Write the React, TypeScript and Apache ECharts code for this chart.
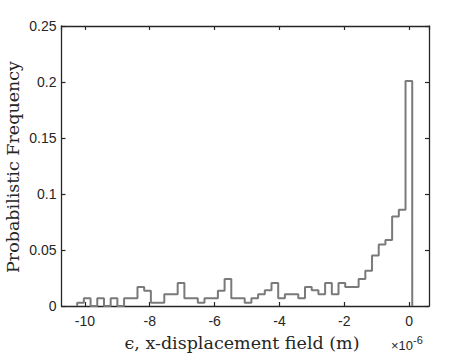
import React, { useEffect, useRef } from "react";
import * as echarts from "echarts";

// Histogram bins (x in units of 1e-6 m)
const binStart = -10.237;
const binWidth = 0.2066;
const freq = [
  0.003, 0.007, 0, 0.007, 0, 0.007, 0, 0.007, 0.007, 0.017,
  0.0137, 0.003, 0.003, 0.0104, 0.0104, 0.0205, 0.007, 0.007, 0.003, 0.007,
  0.007, 0.0137, 0.024, 0.007, 0.007, 0.003, 0.007, 0.0104, 0.014, 0.0205,
  0.007, 0.0104, 0.0104, 0.007, 0.017, 0.014, 0.0104, 0.0205, 0.0104, 0.0205,
  0.017, 0.017, 0.024, 0.0315, 0.045, 0.055, 0.059, 0.08, 0.086, 0.201,
];
const xTicks = [-10, -8, -6, -4, -2, 0];
const yTicks = [0, 0.05, 0.1, 0.15, 0.2, 0.25];
const xLabel = "\u03f5, x-displacement field (m)";
const yLabel = "Probabilistic Frequency";

const X_MIN = -10.72;
const X_MAX = 0.61;

export default function App() {
  const ref = useRef<HTMLDivElement>(null);
  useEffect(() => {
    if (!ref.current) return;
    const chart = echarts.init(ref.current, undefined, { renderer: "svg" });
    const pts: number[][] = [];
    pts.push([binStart, 0]);
    freq.forEach((v, i) => {
      pts.push([binStart + i * binWidth, v]);
      pts.push([binStart + (i + 1) * binWidth, v]);
    });
    pts.push([binStart + freq.length * binWidth, 0]);

    const axisColor = "#262626";
    const labelFont = "Liberation Sans";
    const serif = "'DejaVu Serif', serif";
    const xFmt = (v: number) => {
      const r = Math.round(v);
      return Math.abs(v - r) < 1e-6 && xTicks.includes(r) ? String(r) : "";
    };

    chart.setOption({
      animation: false,
      backgroundColor: "#ffffff",
      grid: { left: 61.5, top: 26, width: 367.5, height: 280 },
      xAxis: [
        {
          type: "value",
          min: X_MIN,
          max: X_MAX,
          splitNumber: 5,
          position: "bottom",
          axisLine: { show: true, onZero: false, lineStyle: { color: axisColor, width: 1.3 } },
          axisTick: { show: true, inside: true, length: 4, lineStyle: { color: axisColor, width: 1.2 } },
          axisLabel: {
            formatter: xFmt,
            showMinLabel: false,
            showMaxLabel: false,
            color: axisColor,
            fontFamily: labelFont,
            fontSize: 14,
            margin: 8,
          },
          splitLine: { show: false },
        },
        {
          type: "value",
          min: X_MIN,
          max: X_MAX,
          splitNumber: 5,
          position: "top",
          axisLine: { show: true, onZero: false, lineStyle: { color: axisColor, width: 1.3 } },
          axisTick: { show: true, inside: true, length: 4, lineStyle: { color: axisColor, width: 1.2 } },
          axisLabel: { show: false },
          splitLine: { show: false },
        },
      ],
      yAxis: [
        {
          type: "value",
          min: 0,
          max: 0.25,
          interval: 0.05,
          position: "left",
          axisLine: { show: true, onZero: false, lineStyle: { color: axisColor, width: 1.3 } },
          axisTick: { show: true, inside: true, length: 4, lineStyle: { color: axisColor, width: 1.2 } },
          axisLabel: {
            color: axisColor,
            fontFamily: labelFont,
            fontSize: 14,
            margin: 5,
            formatter: (v: number) => {
              const t = yTicks.find((k) => Math.abs(k - v) < 1e-9);
              return t === undefined ? "" : String(t);
            },
          },
          splitLine: { show: false },
        },
        {
          type: "value",
          min: 0,
          max: 0.25,
          interval: 0.05,
          position: "right",
          axisLine: { show: true, onZero: false, lineStyle: { color: axisColor, width: 1.3 } },
          axisTick: { show: true, inside: true, length: 4, lineStyle: { color: axisColor, width: 1.2 } },
          axisLabel: { show: false },
          splitLine: { show: false },
        },
      ],
      series: [
        {
          type: "line",
          xAxisIndex: 0,
          yAxisIndex: 0,
          data: pts,
          showSymbol: false,
          symbol: "none",
          lineStyle: { color: "#7a7a7a", width: 2 },
          z: 1,
        },
      ],
      graphic: [
        {
          type: "text",
          x: 13,
          y: 167,
          rotation: Math.PI / 2,
          style: {
            text: yLabel,
            fill: axisColor,
            font: "17.5px " + serif,
            align: "center",
            verticalAlign: "middle",
          },
        },
        {
          type: "text",
          x: 242,
          y: 343,
          style: {
            text: xLabel,
            fill: axisColor,
            font: "17.5px " + serif,
            align: "center",
            verticalAlign: "middle",
          },
        },
        {
          type: "text",
          x: 391,
          y: 345,
          style: {
            text: "{a|\u00d710}{b|-6}",
            fill: axisColor,
            verticalAlign: "middle",
            rich: {
              a: { fontFamily: labelFont, fontSize: 13, fill: axisColor },
              b: { fontFamily: labelFont, fontSize: 11, fill: axisColor, verticalAlign: "top", padding: [0, 0, 11, 0] },
            },
          },
        },
      ],
    });
    return () => chart.dispose();
  }, []);
  return (
    <div
      ref={ref}
      style={{ position: "absolute", left: 0, top: 0, width: 474, height: 355 }}
    />
  );
}
